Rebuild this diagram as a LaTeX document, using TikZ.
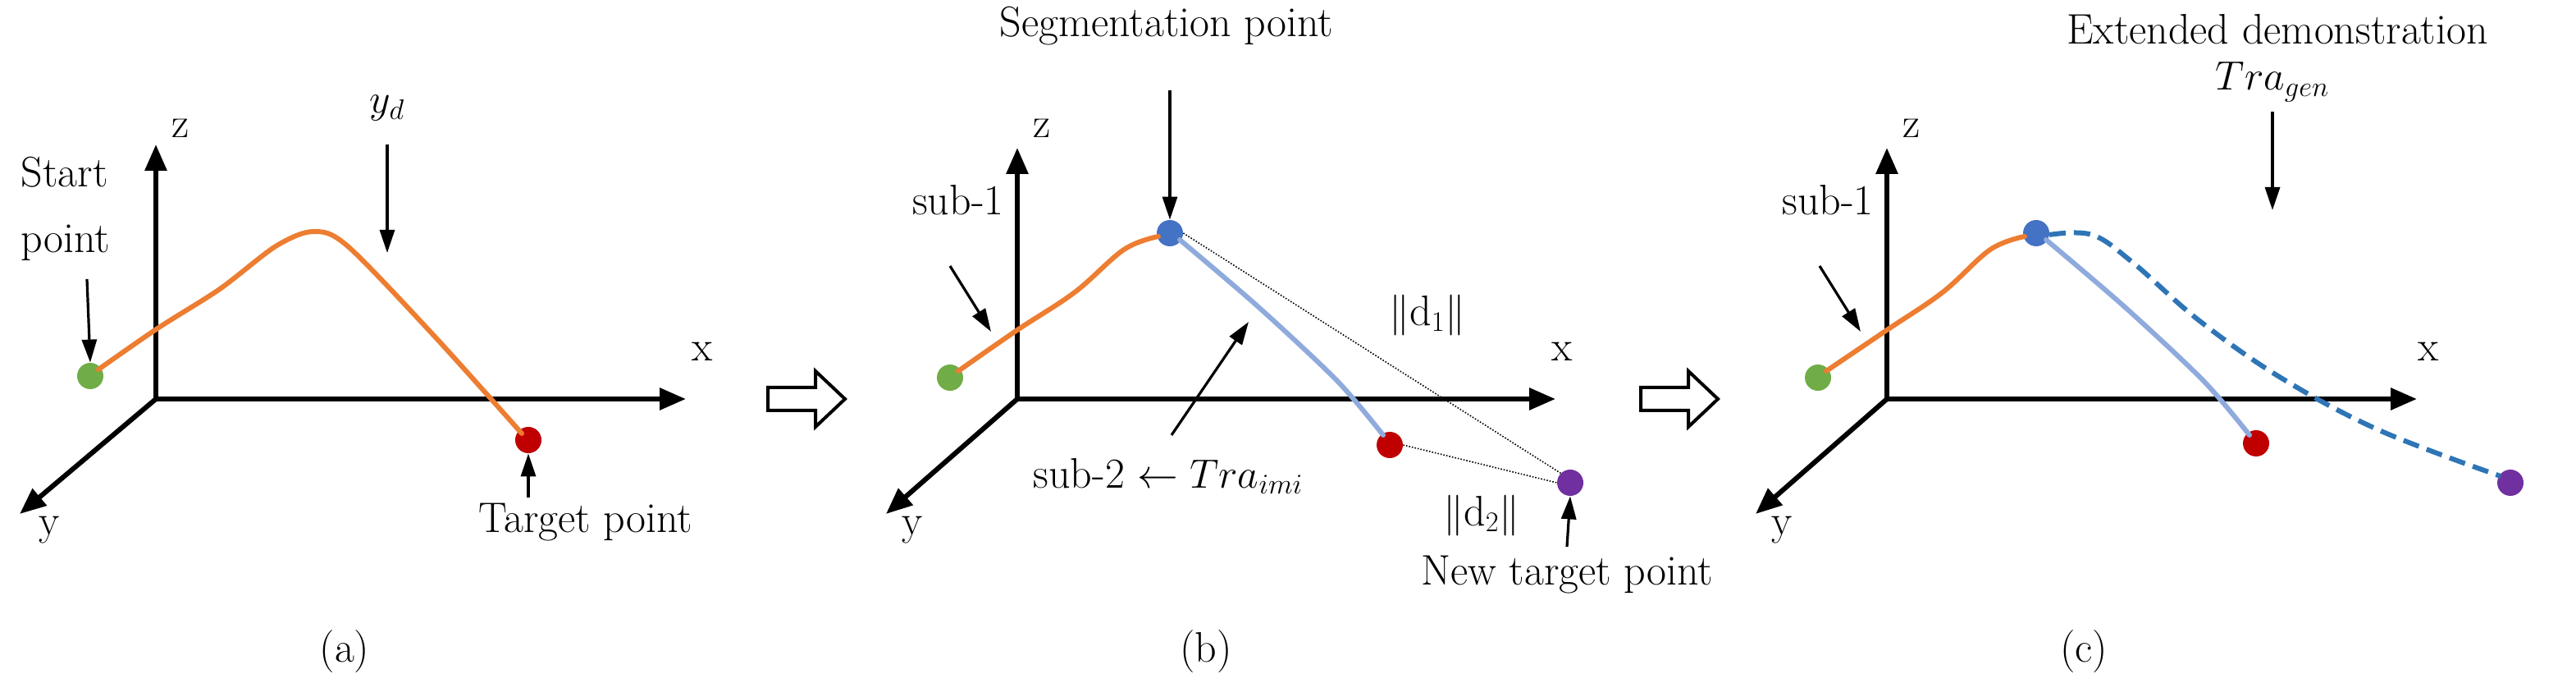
\documentclass[tikz,border=0pt]{standalone}
\usetikzlibrary{arrows.meta}
\begin{document}
\begin{tikzpicture}[x=1pt,y=-1pt,
  ax/.style={line width=3pt,-{Triangle[length=16pt,width=13pt]}},
  lbl/.style={font=\fontsize{26}{40}\selectfont},
  pt/.style={circle,inner sep=0pt,minimum width=16pt},
  ptr/.style={line width=1.6pt,-{Triangle[length=14pt,width=9pt]}},
  orange/.style={line width=3pt,draw={rgb,255:red,237;green,125;blue,49},line cap=round},
  lblue/.style={line width=3pt,draw={rgb,255:red,143;green,170;blue,220},line cap=round},
  hollow/.style={line width=2pt,draw=black,fill=white}]
\useasboundingbox (0,0) rectangle (1570,424.5);
\definecolor{gr}{RGB}{112,173,71}\definecolor{rd}{RGB}{192,0,0}
\definecolor{bl}{RGB}{68,114,196}\definecolor{pu}{RGB}{112,48,160}
\definecolor{db}{RGB}{46,117,182}
% ---------- panel a
\coordinate (oa) at (95,243);
\coordinate (za) at (95,88);\coordinate (xa) at (418,243);\coordinate (ya) at (12,313);
\draw[ax] (oa)--(za);\draw[ax] (oa)--(xa);\draw[ax] (oa)--(ya);
\node[lbl] (zla) at (110,78) {z};\node[lbl] (xla) at (428,214) {x};\node[lbl] (yla) at (30,323) {y};
\node[pt,fill=gr] (ga) at (55,229) {};
\node[pt,fill=rd] (ra) at (322,268) {};
\draw[orange] plot[smooth,tension=0.5] coordinates {(60,225) (96,200) (134,176) (168,150) (191,141) (212,150) (265,205) (318,264)};
\node[lbl] (yd) at (236,66) {$y_d$};
\coordinate (yda) at (236,154);
\draw[ptr] (236,88)--(yda);
\node[lbl,align=left] (sp) at (40,127) {Start\\point};
\draw[ptr] (53,170)--(ga.north);
\node[lbl] (tp) at (357,318) {Target point};
\draw[ptr] (322,303)--(ra.south);
\node[lbl] (capa) at (210,397) {(a)};
% hollow arrows
\draw[hollow] (468,236)--(497,236)--(497,226)--(515,243)--(497,260)--(497,250)--(468,250)--cycle;
\draw[hollow] (1000,236)--(1029,236)--(1029,226)--(1047,243)--(1029,260)--(1029,250)--(1000,250)--cycle;
% ---------- panel b
\coordinate (ob) at (620,243);
\coordinate (zb) at (620,90);\coordinate (xb) at (948,243);\coordinate (yb) at (540,313);
\draw[ax] (ob)--(zb);\draw[ax] (ob)--(xb);\draw[ax] (ob)--(yb);
\node[lbl] (zlb) at (635,78) {z};\node[lbl] (xlb) at (952,214) {x};\node[lbl] (ylb) at (556,323) {y};
\node[pt,fill=gr] (gb) at (579,230) {};
\node[pt,fill=bl] (bb) at (713,142) {};
\node[pt,fill=rd] (rb) at (847,271) {};
\node[pt,fill=pu] (pb) at (957,294) {};
\draw[orange] plot[smooth,tension=0.6] coordinates {(584,226) (620,201) (655,178) (685,152) (706,144)};
\draw[lblue] plot[smooth,tension=0.5] coordinates {(719,146) (767,187) (815,232) (843,265)};
\draw[line width=0.8pt,densely dotted] (bb.east)--(pb.north west);
\draw[line width=0.8pt,densely dotted] (rb.east)--(pb.west);
\node[lbl] (d1) at (870,192) {$\|$d$_1\|$};
\node[lbl] (d2) at (903,314) {$\|$d$_2\|$};
\node[lbl] (seg) at (711,16) {Segmentation point};
\draw[ptr] (713,55)--(bb.north);
\node[lbl] (s1b) at (584,122) {sub-1};
\coordinate (s1bt) at (604,202);
\draw[ptr] (579,162)--(s1bt);
\node[lbl] (s2) at (712,290) {sub-2 $\leftarrow Tra_{imi}$};
\coordinate (s2t) at (761,196);
\draw[ptr] (714,265)--(s2t);
\node[lbl] (ntp) at (955,350) {New target point};
\draw[ptr] (955,333)--(pb.south);
\node[lbl] (capb) at (735,397) {(b)};
% ---------- panel c
\coordinate (oc) at (1150,243);
\coordinate (zc) at (1150,90);\coordinate (xc) at (1473,243);\coordinate (yc) at (1070,313);
\draw[ax] (oc)--(zc);\draw[ax] (oc)--(xc);\draw[ax] (oc)--(yc);
\node[lbl] (zlc) at (1165,78) {z};\node[lbl] (xlc) at (1480,214) {x};\node[lbl] (ylc) at (1086,323) {y};
\node[pt,fill=gr] (gc) at (1108,230) {};
\node[pt,fill=bl] (bc) at (1241,142) {};
\node[pt,fill=rd] (rc) at (1375,270) {};
\node[pt,fill=pu] (pc) at (1530,294) {};
\draw[orange] plot[smooth,tension=0.6] coordinates {(1113,226) (1150,201) (1184,178) (1213,152) (1234,144)};
\draw[lblue] plot[smooth,tension=0.5] coordinates {(1247,146) (1295,187) (1343,232) (1371,265)};
\draw[line width=3pt,draw=db,dash pattern=on 10pt off 5pt] plot[smooth,tension=0.6] coordinates {(1249,143) (1275,143) (1300,160) (1340,195) (1390,230) (1450,262) (1524,290)};
\node[lbl] (ext) at (1388,18) {Extended demonstration};
\node[lbl] (trg) at (1385,50) {$Tra_{gen}$};
\draw[ptr] (1385,68)--(1385,128);
\node[lbl] (s1c) at (1114,122) {sub-1};
\coordinate (s1ct) at (1134,202);
\draw[ptr] (1109,162)--(s1ct);
\node[lbl] (capc) at (1270,397) {(c)};
\end{tikzpicture}
\end{document}
